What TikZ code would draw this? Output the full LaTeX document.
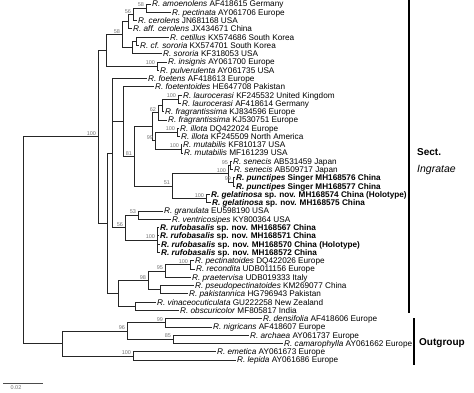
\documentclass[tikz,border=0pt]{standalone}
\usepackage{fontspec}
\setmainfont{Liberation Sans}
\newcommand{\txa}[2]{\textit{#1} #2}
\newcommand{\txb}[2]{\textbf{\textit{#1} #2}}
\begin{document}
\begin{tikzpicture}[x=1pt,y=-1pt,
  br/.style={draw=black!85,line width=0.8pt},
  tip/.style={anchor=west,inner xsep=1.5pt,inner ysep=0pt,text height=5.9pt,text depth=0pt,font=\fontsize{8.2}{9}\selectfont},
  bs/.style={anchor=south east,inner sep=0.3pt,text=black!55,font=\fontsize{5.5}{6}\selectfont},
  grp/.style={anchor=west,inner sep=0pt,font=\fontsize{10}{11}\selectfont}]
\useasboundingbox (0,0) rectangle (474,392);
% tips
\node[tip] (t1) at (150.5,4.00) {\txa{R. amoenolens}{AF418615 Germany}};
\node[tip] (t2) at (170.5,12.28) {\txa{R. pectinata}{AY061706 Europe}};
\node[tip] (t3) at (136.5,20.56) {\txa{R. cerolens}{JN681168 USA}};
\node[tip] (t4) at (131.5,28.84) {\txa{R. aff. cerolens}{JX434671 China}};
\node[tip] (t5) at (168.5,37.12) {\txa{R. cetillus}{KX574686 South Korea}};
\node[tip] (t6) at (138.5,45.40) {\txa{R. cf. sororia}{KX574701 South Korea}};
\node[tip] (t7) at (161.5,53.68) {\txa{R. sororia}{KF318053 USA}};
\node[tip] (t8) at (166.5,61.96) {\txa{R. insignis}{AY061700 Europe}};
\node[tip] (t9) at (158.5,70.24) {\txa{R. pulverulenta}{AY061735 USA}};
\node[tip] (t10) at (146.5,78.52) {\txa{R. foetens}{AF418613 Europe}};
\node[tip] (t11) at (153.5,86.80) {\txa{R. foetentoides}{HE647708 Pakistan}};
\node[tip] (t12) at (181.5,95.08) {\txa{R. laurocerasi}{KF245532 United Kingdom}};
\node[tip] (t13) at (180.5,103.36) {\txa{R. laurocerasi}{AF418614 Germany}};
\node[tip] (t14) at (163.5,111.64) {\txa{R. fragrantissima}{KJ834596 Europe}};
\node[tip] (t15) at (166.5,119.92) {\txa{R. fragrantissima}{KJ530751 Europe}};
\node[tip] (t16) at (178.5,128.20) {\txa{R. illota}{DQ422024 Europe}};
\node[tip] (t17) at (179.5,136.48) {\txa{R. illota}{KF245509 North America}};
\node[tip] (t18) at (181.5,144.76) {\txa{R. mutabilis}{KF810137 USA}};
\node[tip] (t19) at (182.5,153.04) {\txa{R. mutabilis}{MF161239 USA}};
\node[tip] (t20) at (231.5,161.32) {\txa{R. senecis}{AB531459 Japan}};
\node[tip] (t21) at (232.5,169.60) {\txa{R. senecis}{AB509717 Japan}};
\node[tip] (t22) at (234.5,177.88) {\txb{R. punctipes}{Singer MH168576 China}};
\node[tip] (t23) at (234.5,186.16) {\txb{R. punctipes}{Singer MH168577 China}};
\node[tip] (t24) at (209.5,194.44) {\txb{R. gelatinosa}{sp. nov. MH168574 China (Holotype)}};
\node[tip] (t25) at (210.5,202.72) {\txb{R. gelatinosa}{sp. nov. MH168575 China}};
\node[tip] (t26) at (162.5,211.00) {\txa{R. granulata}{EU598190 USA}};
\node[tip] (t27) at (170.5,219.28) {\txa{R. ventricosipes}{KY800364 USA}};
\node[tip] (t28) at (158.5,227.56) {\txb{R. rufobasalis}{sp. nov. MH168567 China}};
\node[tip] (t29) at (158.5,235.84) {\txb{R. rufobasalis}{sp. nov. MH168571 China}};
\node[tip] (t30) at (159.5,244.12) {\txb{R. rufobasalis}{sp. nov. MH168570 China (Holotype)}};
\node[tip] (t31) at (159.5,252.40) {\txb{R. rufobasalis}{sp. nov. MH168572 China}};
\node[tip] (t32) at (193.5,260.68) {\txa{R. pectinatoides}{DQ422026 Europe}};
\node[tip] (t33) at (194.5,268.96) {\txa{R. recondita}{UDB011156 Europe}};
\node[tip] (t34) at (190.5,277.24) {\txa{R. praetervisa}{UDB019333 Italy}};
\node[tip] (t35) at (193.5,285.52) {\txa{R. pseudopectinatoides}{KM269077 China}};
\node[tip] (t36) at (187.5,293.80) {\txa{R. pakistannica}{HG796943 Pakistan}};
\node[tip] (t37) at (155.5,302.08) {\txa{R. vinaceocuticulata}{GU222258 New Zealand}};
\node[tip] (t38) at (178.5,310.36) {\txa{R. obscuricolor}{MF805817 India}};
\node[tip] (t39) at (261.5,318.64) {\txa{R. densifolia}{AF418606 Europe}};
\node[tip] (t40) at (211.5,326.92) {\txa{R. nigricans}{AF418607 Europe}};
\node[tip] (t41) at (248.5,335.20) {\txa{R. archaea}{AY061737 Europe}};
\node[tip] (t42) at (282.5,343.48) {\txa{R. camarophylla}{AY061662 Europe}};
\node[tip] (t43) at (215.5,351.76) {\txa{R. emetica}{AY061673 Europe}};
\node[tip] (t44) at (235.5,360.04) {\txa{R. lepida}{AY061686 Europe}};
% internal nodes
\coordinate (N1) at (146,8.14);
\coordinate (N2) at (133,14.35);
\coordinate (N3) at (128,21.60);
\coordinate (S1) at (136,41.26);
\coordinate (S2) at (132,47.47);
\coordinate (N4) at (122,34.53);
\coordinate (IP) at (157,66.10);
\coordinate (T) at (106,50.32);
\coordinate (L1) at (178,99.22);
\coordinate (L2) at (162,105.43);
\coordinate (L3) at (158,112.68);
\coordinate (ILL) at (177,132.34);
\coordinate (MUT) at (181,148.90);
\coordinate (IM) at (155,140.62);
\coordinate (P1) at (152,126.65);
\coordinate (SEN) at (230,165.46);
\coordinate (PUN) at (233,182.02);
\coordinate (SP) at (228,173.74);
\coordinate (GEL) at (206,198.58);
\coordinate (SG) at (172,186.16);
\coordinate (F) at (134,156.41);
\coordinate (E) at (123,121.61);
\coordinate (GR) at (138,215.14);
\coordinate (RUF) at (157,239.98);
\coordinate (G) at (125,227.56);
\coordinate (C) at (112,153.04);
\coordinate (PR) at (190,264.82);
\coordinate (PRP) at (165,271.03);
\coordinate (PP) at (160,289.66);
\coordinate (D1) at (148,280.35);
\coordinate (VO) at (135,306.22);
\coordinate (D) at (118,293.29);
\coordinate (B) at (107,223.17);
\coordinate (A) at (98,136.74);
\coordinate (DN) at (165,322.78);
\coordinate (AC) at (173,339.34);
\coordinate (O1) at (127,331.06);
\coordinate (EL) at (133,355.90);
\coordinate (O) at (62,343.48);
\coordinate (R) at (23,240.11);
% branches
\draw[br] (N1) |- (t1.west); \draw[br] (N1) |- (t2.west);
\draw[br] (N2) |- (N1); \draw[br] (N2) |- (t3.west);
\draw[br] (N3) |- (N2); \draw[br] (N3) |- (t4.west);
\draw[br] (S1) |- (t5.west); \draw[br] (S1) |- (t6.west);
\draw[br] (S2) |- (S1); \draw[br] (S2) |- (t7.west);
\draw[br] (N4) |- (N3); \draw[br] (N4) |- (S2);
\draw[br] (IP) |- (t8.west); \draw[br] (IP) |- (t9.west);
\draw[br] (T) |- (N4); \draw[br] (T) |- (IP);
\draw[br] (L1) |- (t12.west); \draw[br] (L1) |- (t13.west);
\draw[br] (L2) |- (L1); \draw[br] (L2) |- (t14.west);
\draw[br] (L3) |- (L2); \draw[br] (L3) |- (t15.west);
\draw[br] (ILL) |- (t16.west); \draw[br] (ILL) |- (t17.west);
\draw[br] (MUT) |- (t18.west); \draw[br] (MUT) |- (t19.west);
\draw[br] (IM) |- (ILL); \draw[br] (IM) |- (MUT);
\draw[br] (P1) |- (L3); \draw[br] (P1) |- (IM);
\draw[br] (SEN) |- (t20.west); \draw[br] (SEN) |- (t21.west);
\draw[br] (PUN) |- (t22.west); \draw[br] (PUN) |- (t23.west);
\draw[br] (SP) |- (SEN); \draw[br] (SP) |- (PUN);
\draw[br] (GEL) |- (t24.west); \draw[br] (GEL) |- (t25.west);
\draw[br] (SG) |- (SP); \draw[br] (SG) |- (GEL);
\draw[br] (F) |- (P1); \draw[br] (F) |- (SG);
\draw[br] (E) |- (t11.west); \draw[br] (E) |- (F);
\draw[br] (GR) |- (t26.west); \draw[br] (GR) |- (t27.west);
\draw[br] (RUF) |- (t28.west); \draw[br] (RUF) |- (t29.west);
\draw[br] (RUF) |- (t30.west); \draw[br] (RUF) |- (t31.west);
\draw[br] (G) |- (GR); \draw[br] (G) |- (RUF);
\draw[br] (C) |- (t10.west); \draw[br] (C) |- (E); \draw[br] (C) |- (G);
\draw[br] (PR) |- (t32.west); \draw[br] (PR) |- (t33.west);
\draw[br] (PRP) |- (PR); \draw[br] (PRP) |- (t34.west);
\draw[br] (PP) |- (t35.west); \draw[br] (PP) |- (t36.west);
\draw[br] (D1) |- (PRP); \draw[br] (D1) |- (PP);
\draw[br] (VO) |- (t37.west); \draw[br] (VO) |- (t38.west);
\draw[br] (D) |- (D1); \draw[br] (D) |- (VO);
\draw[br] (B) |- (C); \draw[br] (B) |- (D);
\draw[br] (A) |- (T); \draw[br] (A) |- (B);
\draw[br] (DN) |- (t39.west); \draw[br] (DN) |- (t40.west);
\draw[br] (AC) |- (t41.west); \draw[br] (AC) |- (t42.west);
\draw[br] (O1) |- (DN); \draw[br] (O1) |- (AC);
\draw[br] (EL) |- (t43.west); \draw[br] (EL) |- (t44.west);
\draw[br] (O) |- (O1); \draw[br] (O) |- (EL);
\draw[br] (R) |- (A); \draw[br] (R) |- (O);
% bootstrap values
\node[bs] (bN1) at ([shift={(-1.5,-0.8)}]N1) {58};
\node[bs] (bN2) at ([shift={(-1.5,-0.8)}]N2) {56};
\node[bs] (bN4) at ([shift={(-1.5,-0.8)}]N4) {58};
\node[bs] (bIP) at ([shift={(-1.5,-0.8)}]IP) {100};
\node[bs] (bL1) at ([shift={(-1.5,-0.8)}]L1) {100};
\node[bs] (bL3) at ([shift={(-1.5,-0.8)}]L3) {62};
\node[bs] (bILL) at ([shift={(-1.5,-0.8)}]ILL) {100};
\node[bs] (bMUT) at ([shift={(-1.5,-0.8)}]MUT) {100};
\node[bs] (bIM) at ([shift={(-1.5,-0.8)}]IM) {99};
\node[bs] (bF) at ([shift={(-1.5,-0.8)}]F) {81};
\node[bs] (bSEN) at ([shift={(-1.5,-0.8)}]SEN) {95};
\node[bs] (bSP) at ([shift={(-1.5,-0.8)}]SP) {100};
\node[bs] (bPUN) at ([shift={(-1.5,-0.8)}]PUN) {99};
\node[bs] (bSG) at ([shift={(-1.5,-0.8)}]SG) {51};
\node[bs] (bGEL) at ([shift={(-1.5,-0.8)}]GEL) {100};
\node[bs] (bGR) at ([shift={(-1.5,-0.8)}]GR) {53};
\node[bs] (bG) at ([shift={(-1.5,-0.8)}]G) {56};
\node[bs] (bRUF) at ([shift={(-1.5,-0.8)}]RUF) {100};
\node[bs] (bPR) at ([shift={(-1.5,-0.8)}]PR) {100};
\node[bs] (bPRP) at ([shift={(-1.5,-0.8)}]PRP) {95};
\node[bs] (bD1) at ([shift={(-1.5,-0.8)}]D1) {98};
\node[bs] (bA) at ([shift={(-1.5,-0.8)}]A) {100};
\node[bs] (bDN) at ([shift={(-1.5,-0.8)}]DN) {99};
\node[bs] (bAC) at ([shift={(-1.5,-0.8)}]AC) {85};
\node[bs] (bO1) at ([shift={(-1.5,-0.8)}]O1) {96};
\node[bs] (bEL) at ([shift={(-1.5,-0.8)}]EL) {100};
% group brackets
\coordinate (g1a) at (409,0); \coordinate (g1b) at (409,313);
\coordinate (g2a) at (414,318); \coordinate (g2b) at (414,365);
\draw[line width=1.2pt] (g1a) -- (g1b);
\draw[line width=1.2pt] (g2a) -- (g2b);
\node[grp] (sect) at (417,152) {\textbf{Sect.}};
\node[grp] (ingr) at (417,170) {\fontsize{10.5}{11}\selectfont\textit{Ingratae}};
\node[grp] (outg) at (419,343) {\textbf{Outgroup}};
% scale bar
\coordinate (sb1) at (3,383); \coordinate (sb2) at (43,383);
\draw[draw=black!70,line width=0.9pt] (sb1) -- (sb2);
\node[bs,anchor=north] (sbl) at (16,385.5) {0.02};
\end{tikzpicture}
\end{document}
